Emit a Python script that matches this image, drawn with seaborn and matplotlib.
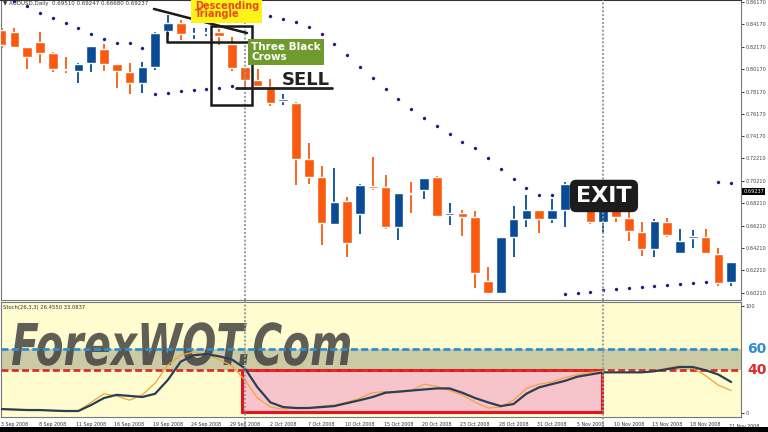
import numpy as np
import pandas as pd
import seaborn as sns
import matplotlib.pyplot as plt
from matplotlib.patches import Rectangle, PathPatch
from matplotlib.textpath import TextPath
from matplotlib.font_manager import FontProperties
from matplotlib.transforms import Affine2D

# AUDUSD daily, 58 bars
opens = [0.8367, 0.8349, 0.8215, 0.8260, 0.8162, 0.8019, 0.8001, 0.8072, 0.8197, 0.8063,
         0.7992, 0.7894, 0.8037, 0.8358, 0.8430, 0.8331, 0.8340, 0.8349, 0.8242, 0.8037,
         0.7921, 0.7858, 0.7738, 0.7715, 0.7215, 0.7054, 0.6635, 0.6840, 0.6724, 0.6970,
         0.6965, 0.6608, 0.6912, 0.6938, 0.7054, 0.6720, 0.6733, 0.6697, 0.6126, 0.6018,
         0.6519, 0.6679, 0.6760, 0.6679, 0.6760, 0.6894, 0.6760, 0.6653, 0.6760, 0.6688,
         0.6563, 0.6411, 0.6653, 0.6376, 0.6514, 0.6519, 0.6367, 0.6117]
highs = [0.8385, 0.8385, 0.8215, 0.8349, 0.8171, 0.8126, 0.8072, 0.8224, 0.8242, 0.8063,
         0.8072, 0.8081, 0.8349, 0.8501, 0.8456, 0.8385, 0.8385, 0.8376, 0.8305, 0.8037,
         0.8019, 0.7930, 0.7796, 0.7724, 0.7358, 0.7153, 0.7135, 0.6876, 0.6992, 0.7233,
         0.7072, 0.6912, 0.7010, 0.7046, 0.7063, 0.6822, 0.6760, 0.6751, 0.6251, 0.6519,
         0.6795, 0.6894, 0.6760, 0.6858, 0.7010, 0.6956, 0.6804, 0.6804, 0.6795, 0.6742,
         0.6653, 0.6679, 0.6688, 0.6590, 0.6581, 0.6590, 0.6420, 0.6295]
lows = [0.8206, 0.8206, 0.8019, 0.8072, 0.7992, 0.7983, 0.7894, 0.7992, 0.8001, 0.7849,
        0.7796, 0.7805, 0.8010, 0.8314, 0.8278, 0.8287, 0.8314, 0.8233, 0.8001, 0.7849,
        0.7849, 0.7688, 0.7697, 0.6983, 0.6992, 0.6447, 0.6626, 0.6340, 0.6545, 0.6938,
        0.6590, 0.6492, 0.6733, 0.6858, 0.6702, 0.6626, 0.6527, 0.6063, 0.6014, 0.6014,
        0.6340, 0.6608, 0.6554, 0.6644, 0.6608, 0.6778, 0.6635, 0.6554, 0.6653, 0.6483,
        0.6349, 0.6340, 0.6519, 0.6371, 0.6420, 0.6367, 0.6081, 0.6081]
closes = [0.8233, 0.8215, 0.8126, 0.8162, 0.8019, 0.8010, 0.8063, 0.8224, 0.8063, 0.8001,
          0.7894, 0.8037, 0.8340, 0.8430, 0.8331, 0.8340, 0.8349, 0.8314, 0.8028, 0.7921,
          0.7867, 0.7715, 0.7742, 0.7215, 0.7054, 0.6644, 0.6831, 0.6465, 0.6983, 0.6961,
          0.6608, 0.6912, 0.6903, 0.7046, 0.6706, 0.6724, 0.6697, 0.6197, 0.6018, 0.6519,
          0.6679, 0.6760, 0.6679, 0.6760, 0.6992, 0.6804, 0.6653, 0.6760, 0.6697, 0.6572,
          0.6411, 0.6662, 0.6536, 0.6483, 0.6519, 0.6376, 0.6108, 0.6295]
sar = [np.nan, 0.8626, 0.8581, 0.8519, 0.8474, 0.8430, 0.8385, 0.8331, 0.8287, 0.8251,
       0.8251, 0.8206, 0.7796, 0.7805, 0.7822, 0.7831, 0.7840, 0.7849, 0.7867, 0.8546,
       0.8519, 0.8492, 0.8465, 0.8439, 0.8394, 0.8331, 0.8242, 0.8144, 0.8037, 0.7939,
       0.7840, 0.7751, 0.7662, 0.7581, 0.7510, 0.7438, 0.7367, 0.7313, 0.7224, 0.7126,
       0.7037, 0.6956, 0.6894, 0.6894, 0.6010, 0.6019, 0.6027, 0.6045, 0.6054, 0.6063,
       0.6072, 0.6081, 0.6090, 0.6099, 0.6108, 0.6117, 0.7010, 0.7001]
stoch_main = [3.7, 3.3, 2.8, 2.8, 2.3, 1.9, 1.9, 7.5, 14, 17, 16, 15, 18, 31, 48, 54, 55, 53,
              50, 42, 24, 10, 5.6, 4.7, 4.7, 5.6, 6.5, 9.3, 12, 15, 19, 20, 21, 22, 23, 23,
              19, 14, 10, 6.5, 8.4, 18, 24, 27, 30, 34, 36, 38, 38, 38, 38, 39, 41, 43, 43,
              40, 36, 29]
stoch_signal = [3.5, 3, 2.8, 2.8, 2.3, 2, 2, 10, 18, 16, 12, 17, 28, 45, 54, 57, 55, 50, 44,
                31, 14, 5.6, 3.7, 4.7, 4.7, 6.5, 7.5, 10, 14, 19, 20, 19, 21, 27, 25, 21, 17,
                10, 4.7, 5.6, 12, 23, 27, 29, 33, 36, 38, 39, 38, 38, 38, 39, 42, 44, 42, 35,
                26, 21]
date_labels = ["3 Sep 2008", "8 Sep 2008", "11 Sep 2008", "16 Sep 2008", "19 Sep 2008",
               "24 Sep 2008", "29 Sep 2008", "2 Oct 2008", "7 Oct 2008", "10 Oct 2008",
               "15 Oct 2008", "20 Oct 2008", "23 Oct 2008", "28 Oct 2008", "31 Oct 2008",
               "5 Nov 2008", "10 Nov 2008", "13 Nov 2008", "18 Nov 2008", "21 Nov 2008"]
price_ticks = [0.8617, 0.8417, 0.8217, 0.8017, 0.7817, 0.7617, 0.7417,
               0.7221, 0.7021, 0.6821, 0.6621, 0.6421, 0.6221, 0.6021]
last_price = 0.69237

ORANGE = '#FA5A0F'
BLUE = '#0B4B96'

df = pd.DataFrame({'bar': range(len(opens)), 'open': opens, 'high': highs, 'low': lows,
                   'close': closes, 'sar': sar, 'main': stoch_main, 'signal': stoch_signal})
df['color'] = np.where(df['close'] >= df['open'], BLUE, ORANGE)

sns.set_style("white")
plt.rcParams['font.family'] = ['DejaVu Sans']

fig = plt.figure(figsize=(7.68, 4.32), dpi=100)
ax = fig.add_axes([0.0013, 0.3056, 0.9635, 0.6944])
ax2 = fig.add_axes([0.0013, 0.0347, 0.9635, 0.2662], sharex=ax)

# ---- price panel: candles + parabolic SAR
ax.vlines(df['bar'], df['low'], df['high'], colors=df['color'], lw=1.3, zorder=2)
body_h = (df['close'] - df['open']).abs().clip(lower=0.0016)
mid = (df['close'] + df['open']) / 2
ax.bar(df['bar'], body_h, bottom=mid - body_h / 2, width=0.75, color=df['color'], zorder=3)
sns.scatterplot(data=df, x='bar', y='sar', color='#1B1B80', s=5, edgecolor=None,
                ax=ax, zorder=4)

ax.set_xlim(-0.04, 57.77)
ax.set_ylim(0.5956, 0.8635)
ax.yaxis.tick_right()
ax.set_yticks(price_ticks)
ax.set_yticklabels([f'{t:.5f}' for t in price_ticks])
ax.tick_params(axis='y', labelsize=3.6, colors='#444444', length=2, pad=1.5)
ax.tick_params(axis='x', labelbottom=False, bottom=False)
ax.set_xlabel('')
ax.set_ylabel('')
for s in ax.spines.values():
    s.set_color('#777777')
    s.set_linewidth(0.8)
ax.spines['top'].set_color('#333333')
ax.spines['top'].set_linewidth(1.5)

ax.text(0.003, 0.997, '\u25bc AUDUSD,Daily  0.69510 0.69247 0.66680 0.69237',
        transform=ax.transAxes, fontsize=4.0, color='#333333', va='top', ha='left')
ax.text(1.003, last_price, f'{last_price:.5f}', transform=ax.get_yaxis_transform(),
        fontsize=3.6, color='white', va='center', ha='left', clip_on=False,
        bbox=dict(boxstyle='square,pad=0.2', fc='black', ec='none'))

# pattern annotations
ax.plot([11.91, 19.18], [0.8555, 0.8340], color='#1a1a1a', lw=1.8, zorder=6)
ax.plot([12.93, 12.93, 19.3], [0.8349, 0.8260, 0.8260], color='#1a1a1a', lw=1.8, zorder=6)
ax.add_patch(Rectangle((16.37, 0.7697), 3.2, 0.0706, fill=False, ec='#1a1a1a', lw=1.8, zorder=6))
ax.text(15.1, 0.8545, 'Descending\nTriangle', fontsize=7, fontweight='bold', color='#E84A1C',
        ha='left', va='center', linespacing=0.85, zorder=7,
        bbox=dict(boxstyle='square,pad=0.35', fc='#FFF21A', ec='none'))
ax.text(19.5, 0.8171, 'Three Black\nCrows', fontsize=7.5, fontweight='bold', color='white',
        ha='left', va='center', linespacing=0.9, zorder=7,
        bbox=dict(boxstyle='square,pad=0.3', fc='#6E9B2B', ec='none'))
ax.text(21.9, 0.7925, 'SELL', fontsize=13, fontweight='bold', color='#222222',
        ha='left', va='center', zorder=7)
ax.plot([18.3, 25.8], [0.7849, 0.7849], color='#222222', lw=2, zorder=6)
ax.text(47.07, 0.6885, 'EXIT', fontsize=16, fontweight='bold', color='white',
        ha='center', va='center', zorder=7,
        bbox=dict(boxstyle='round,pad=0.28', fc='#1c1c1c', ec='none'))

# ---- stochastic panel
ax2.set_facecolor('#FFFDCF')
ax2.axhspan(40, 60, color='#CCC9A5', lw=0, zorder=0)
ax2.add_patch(Rectangle((18.79, 0.8), 46.9 - 18.79, 39.2, fc='#F8C4CC', ec='#E5141E',
                        lw=2.2, zorder=1))

# watermark, squeezed to the width it has in the picture (pixel units)
tp = TextPath((0, 0), 'ForexWOT.Com', size=1,
              prop=FontProperties(family='DejaVu Sans', weight='bold', style='italic'))
ext = tp.get_extents()
wm_tr = Affine2D().translate(-ext.x0, 0).scale(338 / ext.width, 42 / 0.729).translate(12, 67)
ax2.add_artist(PathPatch(tp, transform=wm_tr, fc='#3c3c3c', ec='none', alpha=0.82, zorder=1.5))

ax2.axhline(60, color='#2F8FCF', ls=(0, (2.5, 1.2)), lw=2, zorder=2)
ax2.axhline(40, color='#D8302C', ls=(0, (2.5, 1.2)), lw=2, zorder=1.8)
sns.lineplot(data=df, x='bar', y='signal', color='#F2A33A', lw=0.9, ax=ax2, zorder=3)
sns.lineplot(data=df, x='bar', y='main', color='#2A3F55', lw=1.6, ax=ax2, zorder=4)

ax2.set_ylim(-3.7, 103.7)
ax2.yaxis.tick_right()
ax2.set_yticks([100, 0])
ax2.set_yticklabels(['100', '0'])
ax2.tick_params(axis='y', labelsize=3.6, colors='#444444', length=2, pad=1.5)
tick_pos = list(range(1, 59, 3))
ax2.set_xticks(tick_pos[:-1])
ax2.set_xticklabels(date_labels[:-1])
ax2.tick_params(axis='x', labelsize=3.4, colors='#333333', length=2, pad=1.5)
ax2.text(tick_pos[-1], -0.065, date_labels[-1], transform=ax2.get_xaxis_transform(),
         fontsize=3.4, color='#333333', ha='center', va='top', clip_on=False)
ax2.set_xlabel('')
ax2.set_ylabel('')
for s in ax2.spines.values():
    s.set_color('#777777')
    s.set_linewidth(0.8)
ax2.text(0.003, 0.975, 'Stoch(26,3,3) 26.4550 33.0837', transform=ax2.transAxes,
         fontsize=3.8, color='#333333', va='top', ha='left')
ax2.text(1.022, 60, '60', transform=ax2.get_yaxis_transform(), fontsize=10,
         fontweight='bold', color='#2F8FCF', ha='center', va='center', clip_on=False)
ax2.text(1.022, 40, '40', transform=ax2.get_yaxis_transform(), fontsize=10,
         fontweight='bold', color='#E02A2A', ha='center', va='center', clip_on=False)

# entry / exit markers
for xv in [19, 47]:
    ax.axvline(xv, color='#999999', ls=(0, (1, 1)), lw=1.4, zorder=5)
    ax2.axvline(xv, ymin=-0.12, ymax=1.03, color='#999999', ls=(0, (1, 1)), lw=1.4,
                zorder=5, clip_on=False)

fig.patches.append(Rectangle((0, 0), 1, 0.0116, transform=fig.transFigure,
                             fc='black', ec='none'))

fig.savefig('out.png', dpi=100)
